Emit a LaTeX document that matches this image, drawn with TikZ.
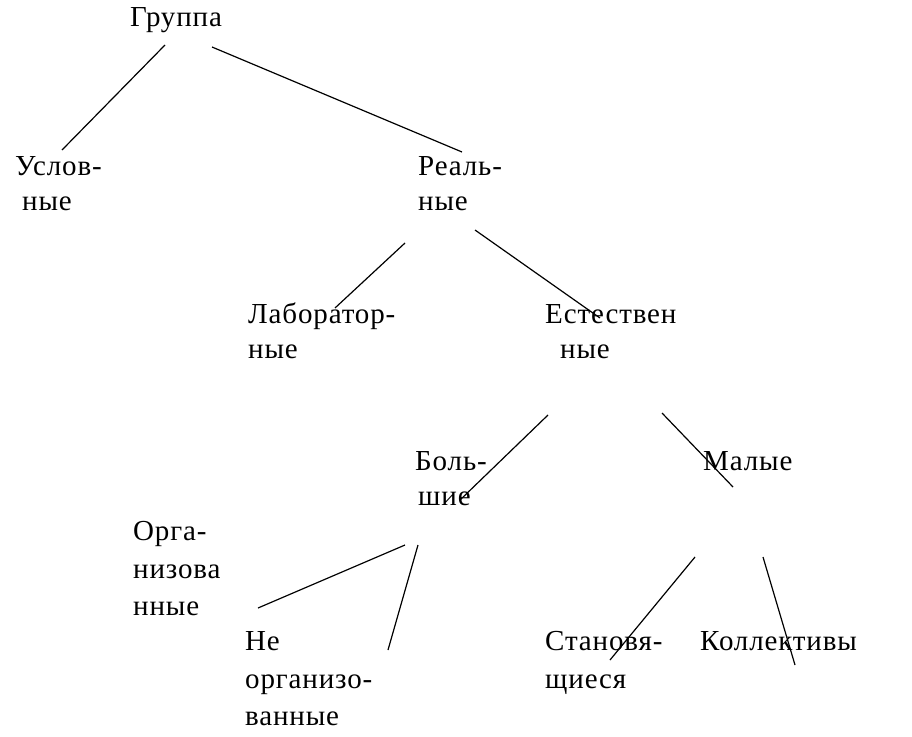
\documentclass[tikz,border=0pt]{standalone}
\usepackage{fontspec}
\setmainfont[LetterSpace=3]{Liberation Serif}
\begin{document}
\begin{tikzpicture}[x=1pt,y=-1pt,
  lbl/.style={anchor=base west,inner sep=0pt,font=\fontsize{29}{34}\selectfont},
  edge/.style={line width=1.2pt}]
\useasboundingbox[fill=white] (0,0) rectangle (912,736);
\node[lbl] (g) at (130,27) {Группа};
\node[lbl] (u1) at (15,175) {Услов-};
\node[lbl] (u2) at (22,210) {ные};
\node[lbl] (r1) at (418,175) {Реаль-};
\node[lbl] (r2) at (418,210) {ные};
\node[lbl] (l1) at (248,323) {Лаборатор-};
\node[lbl] (l2) at (248,358) {ные};
\node[lbl] (e1) at (545,323) {Естествен};
\node[lbl] (e2) at (560,358) {ные};
\node[lbl] (b1) at (415,470) {Боль-};
\node[lbl] (b2) at (418,505) {шие};
\node[lbl] (m) at (703,470) {Малые};
\node[lbl] (o1) at (133,540) {Орга-};
\node[lbl] (o2) at (133,578) {низова};
\node[lbl] (o3) at (133,615) {нные};
\node[lbl] (n1) at (245,650) {Не};
\node[lbl] (n2) at (245,688) {организо-};
\node[lbl] (n3) at (245,725) {ванные};
\node[lbl] (s1) at (545,650) {Становя-};
\node[lbl] (s2) at (545,688) {щиеся};
\node[lbl] (k) at (700,650) {Коллективы};
\foreach \n/\x/\y in {a1/165/45,a2/62/150,b1s/212/47,b2e/462/152,c1/405/243,c2/335/308,
  d1/475/230,d2/600/318,f1/548/415,f2/460/500,h1/662/413,h2/733/487,
  i1/405/545,i2/258/608,j1/418/545,j2/388/650,p1/695/557,p2/610/660,q1/763/557,q2/795/665}
  \coordinate (\n) at (\x,\y);
\draw[edge] (a1)--(a2);
\draw[edge] (b1s)--(b2e);
\draw[edge] (c1)--(c2);
\draw[edge] (d1)--(d2);
\draw[edge] (f1)--(f2);
\draw[edge] (h1)--(h2);
\draw[edge] (i1)--(i2);
\draw[edge] (j1)--(j2);
\draw[edge] (p1)--(p2);
\draw[edge] (q1)--(q2);
\end{tikzpicture}
\end{document}
